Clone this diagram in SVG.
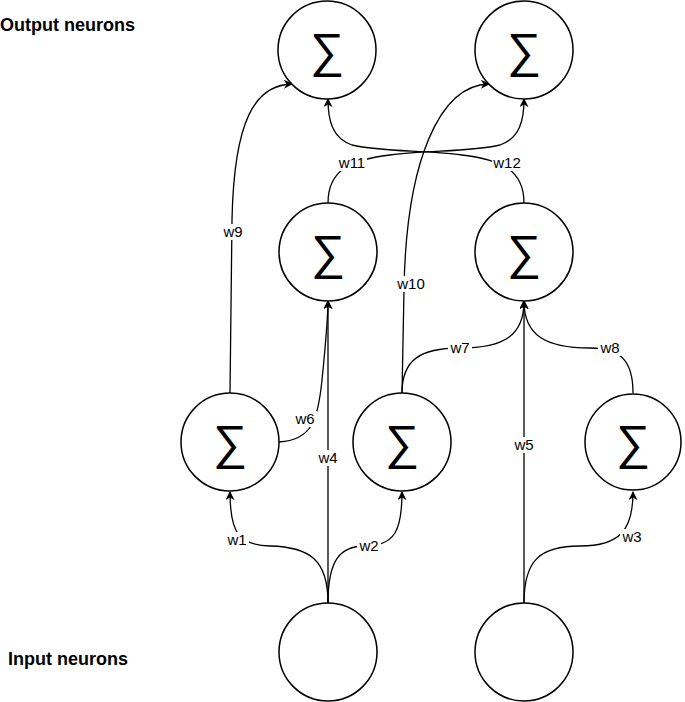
<svg xmlns="http://www.w3.org/2000/svg" width="685" height="702" viewBox="0 0 685 702">
<style>
.n{fill:#fff;stroke:#000;stroke-width:1.5}
.s{font-family:"DejaVu Sans",sans-serif;font-size:48px;font-weight:200;text-anchor:middle}
.c{fill:none;stroke:#000;stroke-width:1.3}
.a{marker-end:url(#ar)}
.l{font-family:"Liberation Sans",Arial,sans-serif;font-size:15px;text-anchor:middle}
.lb{fill:#fff}
.t{font-family:"Liberation Sans",Arial,sans-serif;font-size:18px;font-weight:bold}
</style>
<defs>
<marker id="ar" viewBox="0 0 10 10" refX="9" refY="5" markerWidth="9" markerHeight="9" orient="auto" markerUnits="userSpaceOnUse">
<path d="M0,0 L10,5 L0,10 L3,5 z" fill="#000"/>
</marker>
</defs>
<rect width="685" height="702" fill="#fff"/>
<g id="connectors">
<path class="c a" d="M328,603 C328,560 310,547 270,546 C240,545 230,535 230,492"/>
<path class="c a" d="M328,603 C328,560 340,546 365,546 C395,546 402,530 402,492"/>
<path class="c a" d="M328,603 L328,301"/>
<path class="c a" d="M524,603 L524,301"/>
<path class="c a" d="M524,603 C524,560 540,546 580,546 C620,546 633,530 633,492"/>
<path class="c a" d="M279,442 C312,440 318,420 322,380 C326,340 328,320 328,301"/>
<path class="c a" d="M402,393 C402,360 420,348 460,348 C505,348 524,335 524,301"/>
<path class="c a" d="M633,393 C633,360 620,348 590,348 C545,348 524,335 524,301"/>
<path class="c a" d="M230,393 L232,220 C234,120 255,85 292,84"/>
<path class="c a" d="M402,393 L404,290 C406,160 440,85 489,84"/>
<path class="c a" d="M328,203 C328,170 350,160 390,155 C430,150 470,152 500,145 C520,138 524,120 524,99"/>
<path class="c a" d="M524,203 C524,170 502,160 462,155 C422,150 382,152 352,145 C332,138 328,120 328,99"/>
<g>
<rect class="lb" x="225" y="532" width="24" height="16"/><text class="l" x="237" y="545">w1</text>
<rect class="lb" x="357" y="538" width="24" height="16"/><text class="l" x="369" y="551">w2</text>
<rect class="lb" x="620" y="529" width="24" height="16"/><text class="l" x="632" y="542">w3</text>
<rect class="lb" x="316" y="450" width="24" height="16"/><text class="l" x="328" y="463">w4</text>
<rect class="lb" x="512" y="437" width="24" height="16"/><text class="l" x="524" y="450">w5</text>
<rect class="lb" x="293" y="411" width="24" height="16"/><text class="l" x="305" y="424">w6</text>
<rect class="lb" x="448" y="340" width="24" height="16"/><text class="l" x="460" y="353">w7</text>
<rect class="lb" x="598" y="340" width="24" height="16"/><text class="l" x="610" y="353">w8</text>
<rect class="lb" x="221" y="224" width="24" height="16"/><text class="l" x="233" y="237">w9</text>
<rect class="lb" x="396" y="276" width="30" height="16"/><text class="l" x="411" y="289">w10</text>
<rect class="lb" x="337" y="155" width="30" height="16"/><text class="l" x="352" y="168">w11</text>
<rect class="lb" x="492" y="155" width="30" height="16"/><text class="l" x="507" y="168">w12</text>
</g>
</g>
<g id="out1"><circle class="n" cx="327" cy="50" r="49"/><text class="s" x="327" y="67">∑</text></g>
<g id="out2"><circle class="n" cx="524" cy="50" r="49"/><text class="s" x="524" y="67">∑</text></g>
<g id="mid1"><circle class="n" cx="328" cy="252" r="49"/><text class="s" x="328" y="269">∑</text></g>
<g id="mid2"><circle class="n" cx="524" cy="252" r="49"/><text class="s" x="524" y="269">∑</text></g>
<g id="low1"><circle class="n" cx="230" cy="442" r="49"/><text class="s" x="230" y="459">∑</text></g>
<g id="low2"><circle class="n" cx="402" cy="442" r="49"/><text class="s" x="402" y="459">∑</text></g>
<g id="low3"><circle class="n" cx="633" cy="442" r="48"/><text class="s" x="633" y="459">∑</text></g>
<g id="in1"><circle class="n" cx="328" cy="652" r="49"/></g>
<g id="in2"><circle class="n" cx="524" cy="652" r="49"/></g>
<text class="t" x="0" y="31">Output neurons</text>
<text class="t" x="8" y="665">Input neurons</text>
</svg>
